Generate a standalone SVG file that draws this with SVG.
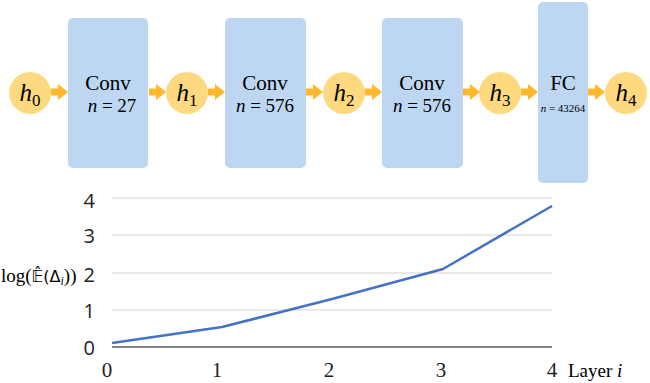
<svg xmlns="http://www.w3.org/2000/svg" width="650" height="383" viewBox="0 0 650 383">
<style>
.box{fill:#BDD7F3;}
.circ{fill:#FFD97F;}
.arr{fill:#FFB829;}
.t{font-family:"Liberation Serif","Times New Roman",serif;fill:#000;}
.it{font-style:italic;}
.h{font-size:25px;text-anchor:middle;}
.sub{font-size:17px;}
.grid{stroke:#D4D4D4;stroke-width:1.2;fill:none;}
.ax{stroke:#595959;stroke-width:1.3;fill:none;}
.yl{font-family:"Open Sans","DejaVu Sans",sans-serif;font-size:20px;fill:#222;text-anchor:end;}
.xl{font-family:"Liberation Serif","Times New Roman",serif;font-size:21px;fill:#222;text-anchor:middle;}
</style>
<defs>
<path id="arrow" d="M0,-3.5 H7 V-8 L17,0 L7,8 V3.5 H0 Z"/>
</defs>
<rect width="650" height="383" fill="#fff"/>
<g id="connectors">
<use href="#arrow" class="arr" x="51" y="92"/>
<use href="#arrow" class="arr" x="149" y="92"/>
<use href="#arrow" class="arr" x="208" y="92"/>
<use href="#arrow" class="arr" x="306" y="92"/>
<use href="#arrow" class="arr" x="365" y="92"/>
<use href="#arrow" class="arr" x="463" y="92"/>
<use href="#arrow" class="arr" x="521" y="92"/>
<use href="#arrow" class="arr" x="588" y="92"/>
</g>
<g id="h0"><circle class="circ" cx="30" cy="93" r="21"/><text class="t h" x="30" y="101"><tspan class="it">h</tspan><tspan class="sub" dy="5">0</tspan></text></g>
<g id="conv1"><rect class="box" x="68" y="18" width="80" height="150" rx="5"/><text class="t" x="108" y="90" font-size="21" text-anchor="middle">Conv</text><text class="t" x="112" y="112" font-size="19" text-anchor="middle"><tspan class="it">n</tspan> = 27</text></g>
<g id="h1"><circle class="circ" cx="187" cy="93" r="21"/><text class="t h" x="187" y="101"><tspan class="it">h</tspan><tspan class="sub" dy="5">1</tspan></text></g>
<g id="conv2"><rect class="box" x="225" y="18" width="81" height="150" rx="5"/><text class="t" x="265" y="90" font-size="21" text-anchor="middle">Conv</text><text class="t" x="265" y="112" font-size="19" text-anchor="middle"><tspan class="it">n</tspan> = 576</text></g>
<g id="h2"><circle class="circ" cx="344" cy="93" r="21"/><text class="t h" x="344" y="101"><tspan class="it">h</tspan><tspan class="sub" dy="5">2</tspan></text></g>
<g id="conv3"><rect class="box" x="382" y="18" width="81" height="150" rx="5"/><text class="t" x="422" y="90" font-size="21" text-anchor="middle">Conv</text><text class="t" x="422" y="112" font-size="19" text-anchor="middle"><tspan class="it">n</tspan> = 576</text></g>
<g id="h3"><circle class="circ" cx="500" cy="93" r="21"/><text class="t h" x="500" y="101"><tspan class="it">h</tspan><tspan class="sub" dy="5">3</tspan></text></g>
<g id="fc"><rect class="box" x="538" y="2" width="50" height="181" rx="5"/><text class="t" x="563" y="90" font-size="21" text-anchor="middle">FC</text><text class="t" x="563" y="112" font-size="11" text-anchor="middle"><tspan class="it">n</tspan> = 43264</text></g>
<g id="h4"><circle class="circ" cx="626" cy="93" r="21"/><text class="t h" x="626" y="101"><tspan class="it">h</tspan><tspan class="sub" dy="5">4</tspan></text></g>
<g id="chart">
<line class="grid" x1="112" y1="198" x2="552" y2="198"/>
<line class="grid" x1="112" y1="235" x2="552" y2="235"/>
<line class="grid" x1="112" y1="273" x2="552" y2="273"/>
<line class="grid" x1="112" y1="310" x2="552" y2="310"/>
<line class="ax" x1="112" y1="347" x2="552" y2="347"/>
<polyline points="112,343 222,327 332,299 443,269 552,206" fill="none" stroke="#4472C4" stroke-width="2.5" stroke-linejoin="round"/>
<text class="yl" x="95" y="208">4</text>
<text class="yl" x="95" y="243">3</text>
<text class="yl" x="95" y="282">2</text>
<text class="yl" x="95" y="318">1</text>
<text class="yl" x="95" y="355">0</text>
<text class="xl" x="107" y="377">0</text>
<text class="xl" x="217" y="377">1</text>
<text class="xl" x="329" y="377">2</text>
<text class="xl" x="441" y="377">3</text>
<text class="xl" x="552" y="377">4</text>
<text class="t" x="568" y="377" font-size="19">Layer <tspan class="it">i</tspan></text>
<text class="t" x="1" y="282" font-size="19">log(<tspan font-family="DejaVu Sans,sans-serif" font-size="16">𝔼̂(Δ</tspan><tspan class="it" font-size="12" dy="3">i</tspan><tspan dy="-3">))</tspan></text>
</g>
</svg>
